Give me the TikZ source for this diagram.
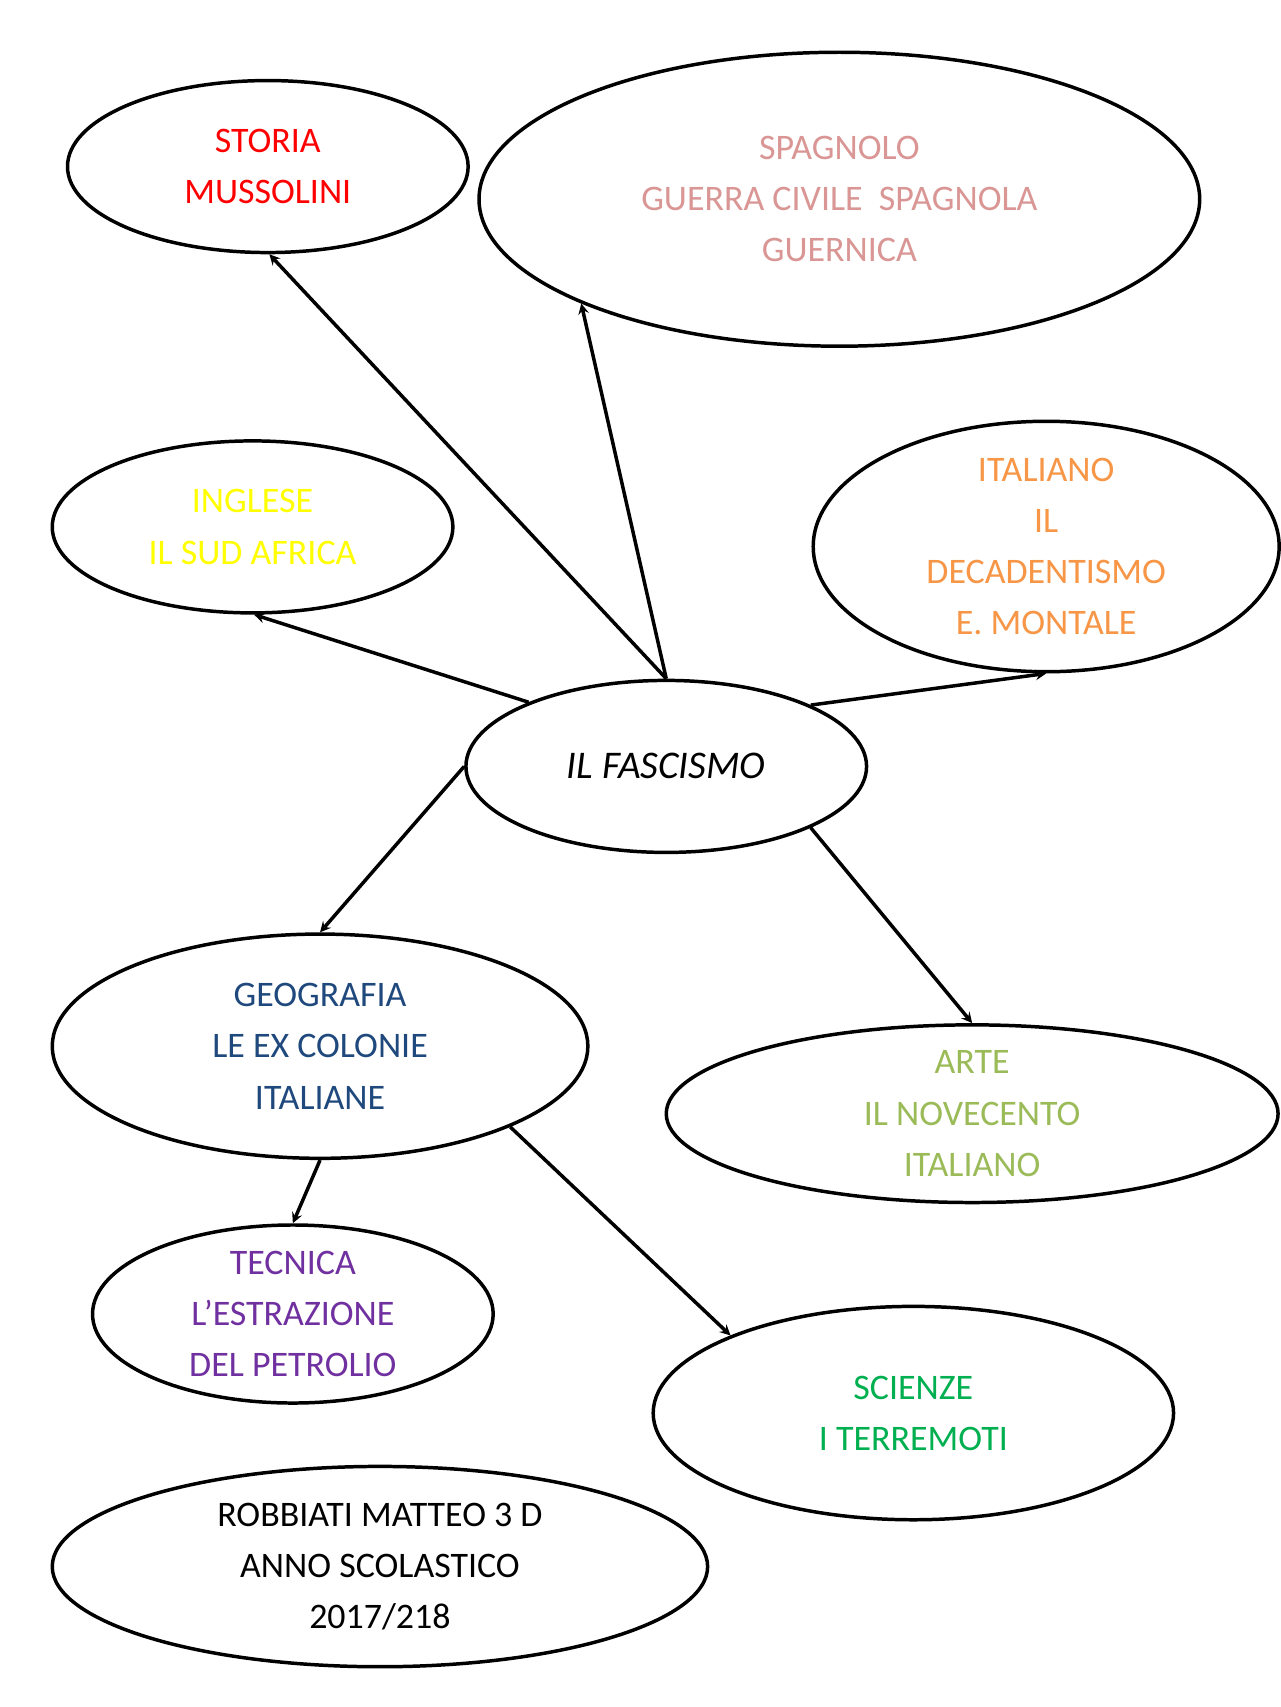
\documentclass[tikz,border=0pt]{standalone}
\usepackage{fontspec}
\setmainfont{Carlito}
\usetikzlibrary{shapes.geometric}
\definecolor{cpink}{HTML}{D99694}
\definecolor{cyel}{HTML}{FFFF00}
\definecolor{corange}{HTML}{F79646}
\definecolor{cblue}{HTML}{1F497D}
\definecolor{colive}{HTML}{9BBB59}
\definecolor{cpurple}{HTML}{7030A0}
\definecolor{cgreen}{HTML}{00B050}
\begin{document}
\begin{tikzpicture}[x=1pt,y=-1pt,
  ell/.style={ellipse,draw,line width=3.2pt,inner sep=0pt,align=center,font=\fontsize{33}{47}\selectfont},
  arr/.style={->,line width=3.2pt,>=stealth}]
\useasboundingbox[fill=white] (0,0) rectangle (1176,1568);
\node[ell,minimum width=368,minimum height=158,text=red] (sto) at (246,153) {STORIA\\MUSSOLINI};
\node[ell,minimum width=662,minimum height=270,text=cpink] (spa) at (771,183) {SPAGNOLO\\GUERRA CIVILE\ \ SPAGNOLA\\GUERNICA};
\node[ell,minimum width=368,minimum height=158,text=cyel] (ing) at (232,484) {INGLESE\\IL SUD AFRICA};
\node[ell,minimum width=428,minimum height=196,text=corange] (ita) at (961,502) {ITALIANO\\IL\\DECADENTISMO\\E. MONTALE};
\node[ell,minimum width=368,minimum height=158,font=\fontsize{36}{47}\selectfont\itshape] (fas) at (612,704) {IL FASCISMO};
\node[ell,minimum width=492,minimum height=206,text=cblue] (geo) at (294,961) {GEOGRAFIA\\LE EX COLONIE\\ITALIANE};
\node[ell,minimum width=562,minimum height=160,text=colive] (art) at (893,1023) {ARTE\\IL NOVECENTO\\ITALIANO};
\node[ell,minimum width=368,minimum height=160,text=cpurple] (tec) at (269,1207) {TECNICA\\L’ESTRAZIONE\\DEL PETROLIO};
\node[ell,minimum width=478,minimum height=196,text=cgreen] (sci) at (839,1298) {SCIENZE\\I TERREMOTI};
\node[ell,minimum width=602,minimum height=184] (rob) at (349,1439) {ROBBIATI MATTEO 3 D\\ANNO SCOLASTICO\\2017/218};
\draw[arr] (fas.90) -- (sto.-89);
\draw[arr] (fas.90) -- (spa.202.6);
\draw[arr] (fas.155.4) -- (ing.-89);
\draw[arr] (fas.23.2) -- (ita.-90);
\draw[arr] (fas.180) -- (geo.90);
\draw[arr] (fas.-23.9) -- (art.90);
\draw[arr] (geo.-90) -- (tec.90);
\draw[arr] (geo.-23.4) -- (sci.157.5);
\end{tikzpicture}
\end{document}
